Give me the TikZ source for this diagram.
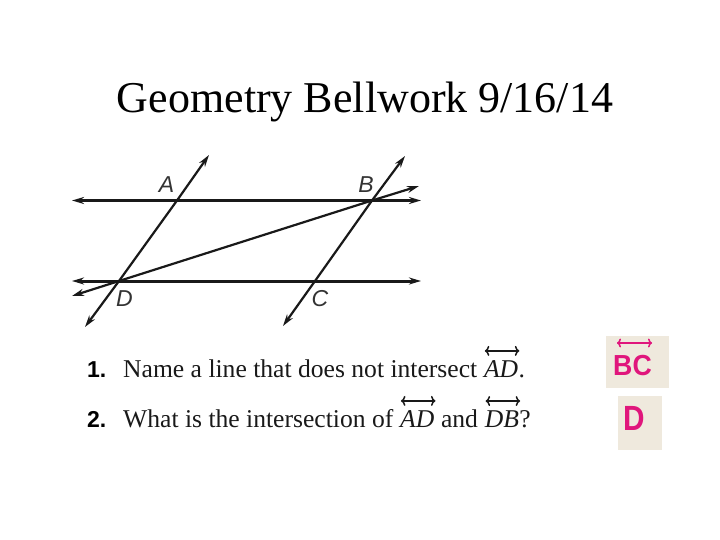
\documentclass[tikz,border=0pt]{standalone}
\usepackage{fontspec}
\setmainfont{Liberation Serif}
\newfontfamily\lsans{Liberation Sans}
\usetikzlibrary{arrows.meta,calc}
\definecolor{boxbg}{HTML}{EFE9DD}
\definecolor{ansp}{HTML}{E0167C}
\definecolor{lbl}{HTML}{333333}
\tikzset{
  geoline/.style={line width=2.2bp, black!90, {Stealth[length=12bp,width=7bp]}-{Stealth[length=12bp,width=7bp]}},
  hline/.style={geoline, line width=3bp},
  ptlabel/.style={font=\lsans\itshape\fontsize{23bp}{26bp}\selectfont, text=lbl, inner sep=0pt},
  qnum/.style={font=\lsans\bfseries\fontsize{23bp}{26bp}\selectfont, anchor=base west, inner sep=0pt},
  qtext/.style={font=\fontsize{25.6bp}{30bp}\selectfont, anchor=base west, inner sep=0pt, text=black!90},
  qital/.style={qtext, font=\fontsize{25.6bp}{30bp}\selectfont\itshape},
  linearrow/.style={line width=1.5bp, black!90, {To[length=4.5bp,width=10bp]}-{To[length=4.5bp,width=10bp]}},
  ansbox/.style={fill=boxbg, draw=none},
  anstext/.style={text=ansp, inner sep=0pt, anchor=base}
}
\begin{document}
\begin{tikzpicture}[x=1bp,y=-1bp]
\useasboundingbox (0,0) rectangle (720,540);
% title
\node[font=\fontsize{44bp}{48bp}\selectfont, anchor=base, inner sep=0pt] (title) at (365,113) {Geometry Bellwork 9/16/14};
% points
\coordinate (A) at (177,200.5);
\coordinate (B) at (372,200.5);
\coordinate (C) at (315,281);
\coordinate (D) at (119,281);
% line ends
\coordinate (hAl) at (72,200.5);
\coordinate (hAr) at (421,200.5);
\coordinate (hDl) at (72,281);
\coordinate (hDr) at (421,281);
\coordinate (adlo) at (85,327);
\coordinate (adhi) at (209,155);
\coordinate (bclo) at (283,326);
\coordinate (bchi) at (405,156);
\coordinate (dblo) at (72,296);
\coordinate (dbhi) at (419,186);
\draw[hline] (hAl) -- (A) -- (B) -- (hAr);
\draw[hline] (hDl) -- (D) -- (C) -- (hDr);
\draw[geoline] (adlo) -- (D) -- (A) -- (adhi);
\draw[geoline] (bclo) -- (C) -- (B) -- (bchi);
\draw[geoline] (dblo) -- (D) -- (B) -- (dbhi);
% labels
\node[ptlabel] (lA) at (166.5,185) {A};
\node[ptlabel] (lB) at (366,185) {B};
\node[ptlabel] (lD) at (124.5,298.5) {D};
\node[ptlabel] (lC) at (320,298.5) {C};
% question 1
\node[qnum] (n1) at (87,377) {1.};
\node[qtext] (q1a) at (123,377) {Name a line that does not intersect};
\node[qital] (ad1) at ($(q1a.base east)+(6.4,0)$) {AD};
\node[qtext] (q1b) at (ad1.base east) {.};
\coordinate (ad1l) at ($(ad1.north west)+(1,-9)$);
\coordinate (ad1r) at ($(ad1.north east)+(1,-9)$);
\draw[linearrow] (ad1l) -- (ad1r);
% question 2
\node[qnum] (n2) at (87,427) {2.};
\node[qtext] (q2a) at (123,427) {What is the intersection of};
\node[qital] (ad2) at ($(q2a.base east)+(6.4,0)$) {AD};
\node[qtext] (q2b) at ($(ad2.base east)+(6.4,0)$) {and};
\node[qital] (db2) at ($(q2b.base east)+(6.4,0)$) {DB};
\node[qtext] (q2c) at (db2.base east) {?};
\coordinate (ad2l) at ($(ad2.north west)+(1,-9)$);
\coordinate (ad2r) at ($(ad2.north east)+(1,-9)$);
\draw[linearrow] (ad2l) -- (ad2r);
\coordinate (db2l) at ($(db2.north west)+(1,-9)$);
\coordinate (db2r) at ($(db2.north east)+(1,-9)$);
\draw[linearrow] (db2l) -- (db2r);
% answers
\fill[ansbox] (606,336) rectangle (669,388);
\node[anstext, font=\lsans\bfseries\fontsize{29bp}{30bp}\selectfont, xscale=0.92] (a1) at (632.5,375) {BC};
\coordinate (a1l) at (617,343);
\coordinate (a1r) at (652,343);
\draw[ansp, line width=1.5bp, {To[length=4bp,width=9bp]}-{To[length=4bp,width=9bp]}] (a1l) -- (a1r);
\fill[ansbox] (618,396) rectangle (662,450);
\node[anstext, font=\lsans\bfseries\fontsize{35bp}{36bp}\selectfont, xscale=0.85] (a2) at (634,430) {D};
\end{tikzpicture}
\end{document}
